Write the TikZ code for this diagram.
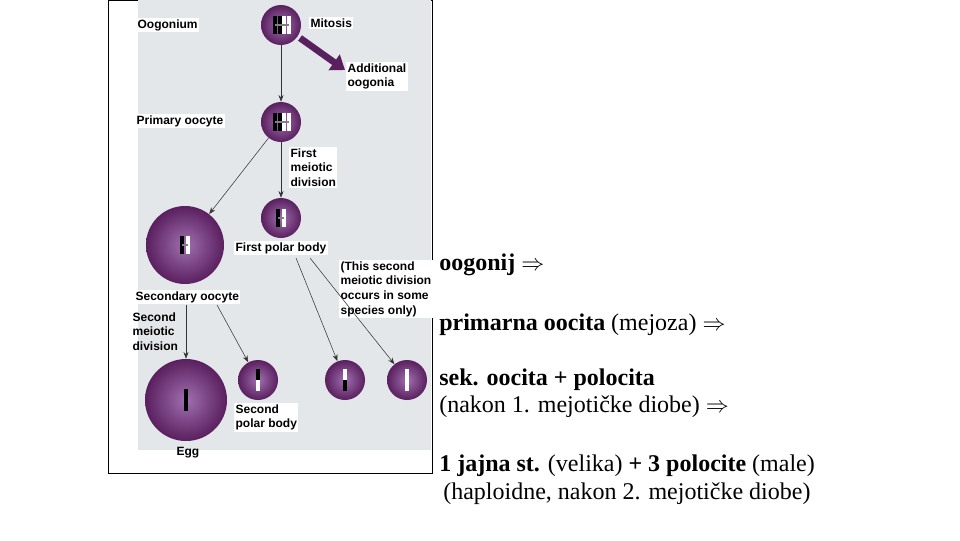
\documentclass[tikz,border=0pt]{standalone}
\usepackage{fontspec}
\setmainfont{Liberation Serif}
\newfontfamily\lab{Liberation Sans}
\usetikzlibrary{arrows.meta}
\definecolor{bgc}{HTML}{E3E7EA}
\definecolor{cellc}{HTML}{5A1F5E}
\definecolor{cellh}{HTML}{A070B0}
\tikzset{
 cell/.style={circle,draw=none,inner color=cellh,outer color=cellc,minimum size=#1},
 lb/.style={font=\lab\bfseries\fontsize{9}{11}\selectfont,align=left,inner sep=1pt,fill=white},
 rt/.style={font=\fontsize{18}{20}\selectfont,anchor=west,inner sep=0pt},
 ar/.style={-{Stealth[length=5pt]},thin,black!80},
 chrom/.style={line width=3pt}
}
\begin{document}
\begin{tikzpicture}[x=0.75pt,y=-0.75pt]
\useasboundingbox (0,0) rectangle (960,540);
\fill[white] (0,0) rectangle (960,540);
\draw[black,fill=white] (108,0) rectangle (432,473);
\fill[bgc] (138,0) rectangle (431,450);
% cells
\node[cell=40pt*0.75] (oog) at (281,25) {};
\node[cell=40pt*0.75] (prim) at (281,122) {};
\node[cell=40pt*0.75] (fpb) at (281,218) {};
\node[cell=78pt*0.75] (sec) at (185,245) {};
\node[cell=82pt*0.75] (egg) at (186,400) {};
\node[cell=40pt*0.75] (spb) at (258,380) {};
\node[cell=40pt*0.75] (pb2) at (345,380) {};
\node[cell=40pt*0.75] (pb3) at (407,380) {};
% chromosomes
\foreach \c in {oog,prim}{
 \draw[chrom,black] ([xshift=-4.5pt,yshift=7pt]\c.center) -- ([xshift=-4.5pt,yshift=-7pt]\c.center);
 \draw[chrom,black] ([xshift=-1pt,yshift=7pt]\c.center) -- ([xshift=-1pt,yshift=-7pt]\c.center);
 \draw[chrom,white] ([xshift=2.5pt,yshift=7pt]\c.center) -- ([xshift=2.5pt,yshift=-7pt]\c.center);
 \draw[chrom,white] ([xshift=6pt,yshift=7pt]\c.center) -- ([xshift=6pt,yshift=-7pt]\c.center);
 \draw[line width=1.5pt,gray] ([xshift=-4.5pt]\c.center) -- ([xshift=6pt]\c.center);
}
\foreach \c in {fpb,sec}{
 \draw[chrom,black] ([xshift=-2.5pt,yshift=7pt]\c.center) -- ([xshift=-2.5pt,yshift=-7pt]\c.center);
 \draw[chrom,white] ([xshift=2.5pt,yshift=7pt]\c.center) -- ([xshift=2.5pt,yshift=-7pt]\c.center);
 \draw[line width=1.5pt,gray] ([xshift=-2.5pt]\c.center) -- ([xshift=2.5pt]\c.center);
}
\draw[chrom,black] ([yshift=8pt]egg.center) -- ([yshift=-8pt]egg.center);
\draw[chrom,black] ([yshift=8pt]spb.center) -- ([yshift=0pt]spb.center);
\draw[chrom,white] ([yshift=0pt]spb.center) -- ([yshift=-8pt]spb.center);
\draw[chrom,white] ([yshift=8pt]pb2.center) -- ([yshift=0pt]pb2.center);
\draw[chrom,black] ([yshift=0pt]pb2.center) -- ([yshift=-8pt]pb2.center);
\draw[chrom,white] ([yshift=8pt]pb3.center) -- ([yshift=-8pt]pb3.center);
% labels
\node[lb,anchor=west] (l1) at (136,25) {Oogonium};
\node[lb,anchor=west] (l2) at (309,23) {Mitosis};
\node[lb,anchor=north west] (l3) at (346,62) {Additional\\oogonia};
\node[lb,anchor=west] (l4) at (135,121) {Primary oocyte};
\node[lb,anchor=north west] (l5) at (289,147) {First\\meiotic\\division};
\node[lb,anchor=west] (l6) at (234,248) {First polar body};
\node[lb,anchor=north west] (l7) at (339,260) {(This second\\meiotic division\\occurs in some\\species only)};
\node[lb,anchor=west] (l8) at (134,297) {Secondary oocyte};
\node[lb,anchor=north west,fill=none] (l9) at (131,311) {Second\\meiotic\\division};
\node[lb,anchor=north west] (l10) at (234,403) {Second\\polar body};
\node[lb,anchor=west,fill=none] (l11) at (175,453) {Egg};
% arrows
\coordinate (m1) at (300,38); \coordinate (m2) at (345,70);
\draw[line width=5pt,cellc,-{Triangle[length=10pt,width=14pt]}] (m1) -- (m2);
\draw[ar] (oog) -- (prim);
\draw[ar] (prim) -- (fpb);
\draw[ar] (prim) -- (sec);
\coordinate (a1) at (296,258); \coordinate (a2) at (310,258);
\draw[ar] (a1) -- (pb2);
\draw[ar] (a2) -- (pb3);
\coordinate (s1) at (186,305); \coordinate (s2) at (217,305);
\draw[ar] (s1) -- (egg);
\draw[ar] (s2) -- (spb);
% right text
\node[rt] (t1) at (439,265) {\textbf{oogonij} $\Rightarrow$};
\node[rt] (t2) at (439,325) {\textbf{primarna oocita} (mejoza) $\Rightarrow$};
\node[rt] (t3) at (439,380) {\textbf{sek. oocita + polocita}};
\node[rt] (t4) at (439,407) {(nakon 1. mejotičke diobe) $\Rightarrow$};
\node[rt] (t5) at (439,466) {\textbf{1 jajna st.} (velika) \textbf{+ 3 polocite} (male)};
\node[rt] (t6) at (443,494) {(haploidne, nakon 2. mejotičke diobe)};
\end{tikzpicture}
\end{document}
